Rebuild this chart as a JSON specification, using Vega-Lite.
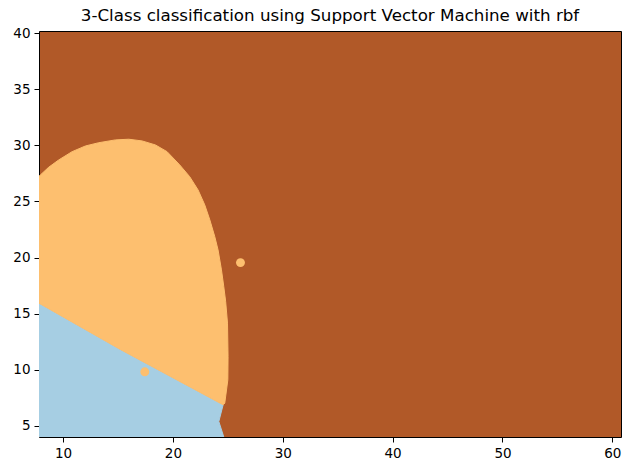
{
  "$schema": "https://vega.github.io/schema/vega-lite/v6.json",
  "width": 582,
  "height": 406,
  "autosize": {"type": "none"},
  "padding": {"left": 39, "top": 31, "right": 9, "bottom": 34},
  "background": "white",
  "config": {
    "view": {"fill": "#b15928", "stroke": "black", "strokeWidth": 1},
    "font": "DejaVu Sans",
    "axis": {
      "grid": false,
      "domain": false,
      "tickColor": "black",
      "tickSize": 5,
      "tickWidth": 1,
      "labelFont": "DejaVu Sans",
      "labelFontSize": 13.5,
      "labelColor": "black",
      "labelPadding": 4,
      "title": null
    }
  },
  "title": {
    "text": "3-Class classification using Support Vector Machine with rbf",
    "font": "DejaVu Sans",
    "fontSize": 16.7,
    "fontWeight": "normal",
    "color": "black",
    "anchor": "middle",
    "offset": 2
  },
  "datasets": {
    "regions": [
      {"region": "blue", "i": 0, "x": 7.81, "y": 4.0},
      {"region": "blue", "i": 1, "x": 7.81, "y": 15.93},
      {"region": "blue", "i": 2, "x": 15.17, "y": 11.83},
      {"region": "blue", "i": 3, "x": 24.57, "y": 6.87},
      {"region": "blue", "i": 4, "x": 24.18, "y": 5.38},
      {"region": "blue", "i": 5, "x": 24.63, "y": 4.0},
      {"region": "orange", "i": 0, "x": 7.81, "y": 15.93},
      {"region": "orange", "i": 1, "x": 7.81, "y": 27.25},
      {"region": "orange", "i": 2, "x": 7.94, "y": 27.37},
      {"region": "orange", "i": 3, "x": 8.69, "y": 28.05},
      {"region": "orange", "i": 4, "x": 9.6, "y": 28.7},
      {"region": "orange", "i": 5, "x": 10.82, "y": 29.44},
      {"region": "orange", "i": 6, "x": 12.04, "y": 29.95},
      {"region": "orange", "i": 7, "x": 13.25, "y": 30.24},
      {"region": "orange", "i": 8, "x": 14.77, "y": 30.49},
      {"region": "orange", "i": 9, "x": 15.98, "y": 30.55},
      {"region": "orange", "i": 10, "x": 17.19, "y": 30.4},
      {"region": "orange", "i": 11, "x": 18.41, "y": 30.04},
      {"region": "orange", "i": 12, "x": 19.47, "y": 29.44},
      {"region": "orange", "i": 13, "x": 20.62, "y": 28.26},
      {"region": "orange", "i": 14, "x": 21.53, "y": 27.21},
      {"region": "orange", "i": 15, "x": 22.29, "y": 26.03},
      {"region": "orange", "i": 16, "x": 22.9, "y": 24.69},
      {"region": "orange", "i": 17, "x": 23.36, "y": 23.36},
      {"region": "orange", "i": 18, "x": 23.81, "y": 21.87},
      {"region": "orange", "i": 19, "x": 24.11, "y": 20.68},
      {"region": "orange", "i": 20, "x": 24.42, "y": 18.9},
      {"region": "orange", "i": 21, "x": 24.63, "y": 17.41},
      {"region": "orange", "i": 22, "x": 24.8, "y": 16.1},
      {"region": "orange", "i": 23, "x": 24.97, "y": 14.15},
      {"region": "orange", "i": 24, "x": 25.02, "y": 11.17},
      {"region": "orange", "i": 25, "x": 25.0, "y": 9.1},
      {"region": "orange", "i": 26, "x": 24.72, "y": 7.02},
      {"region": "orange", "i": 27, "x": 24.57, "y": 6.87},
      {"region": "orange", "i": 28, "x": 15.17, "y": 11.83}
    ],
    "points": [
      {"x": 17.44, "y": 9.81, "cls": "orange"},
      {"x": 26.15, "y": 19.55, "cls": "orange"}
    ]
  },
  "layer": [
    {
      "data": {"name": "regions"},
      "mark": {"type": "line", "interpolate": "linear-closed", "strokeWidth": 1, "clip": true},
      "encoding": {
        "x": {"field": "x", "type": "quantitative", "scale": {"domain": [7.81, 60.79], "nice": false, "zero": false}, "axis": {"values": [10, 20, 30, 40, 50, 60]}},
        "y": {"field": "y", "type": "quantitative", "scale": {"domain": [4.0, 40.2], "nice": false, "zero": false}, "axis": {"values": [5, 10, 15, 20, 25, 30, 35, 40]}},
        "detail": {"field": "region", "type": "nominal"},
        "order": {"field": "i", "type": "quantitative"},
        "fill": {"field": "region", "type": "nominal", "scale": {"domain": ["blue", "orange"], "range": ["#a6cee3", "#fdbf6f"]}, "legend": null},
        "stroke": {"field": "region", "type": "nominal", "scale": {"domain": ["blue", "orange"], "range": ["#a6cee3", "#fdbf6f"]}, "legend": null}
      }
    },
    {
      "data": {"name": "points"},
      "mark": {"type": "circle", "size": 80, "opacity": 1, "color": "#fdbf6f"},
      "encoding": {
        "x": {"field": "x", "type": "quantitative"},
        "y": {"field": "y", "type": "quantitative"}
      }
    }
  ]
}
